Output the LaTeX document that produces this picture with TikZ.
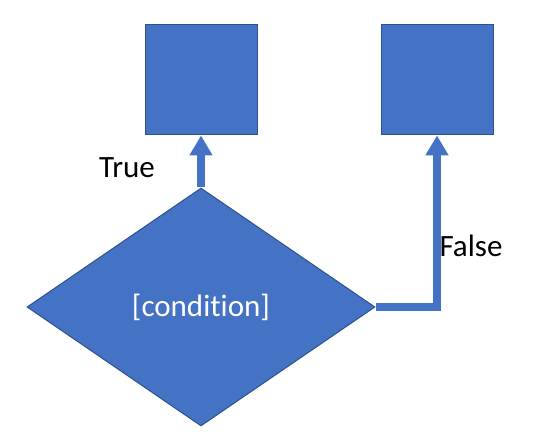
\documentclass[tikz,border=0pt]{standalone}
\usepackage{fontspec}
\setmainfont{Carlito}[Ligatures={NoCommon}]
\usetikzlibrary{shapes.geometric,arrows.meta}
\definecolor{boxblue}{HTML}{4472C4}
\definecolor{edgeblue}{HTML}{2F528F}
\tikzset{
  boxnode/.style={draw=edgeblue, fill=boxblue, line width=1pt, minimum width=112pt, minimum height=110pt, inner sep=0pt},
  decnode/.style={diamond, draw=edgeblue, fill=boxblue, line width=1pt, minimum width=348pt, minimum height=238pt, inner sep=0pt, text=white, font=\fontsize{31}{36}\selectfont},
  arr/.style={draw=boxblue, line width=8pt, -{Triangle[width=22pt,length=20pt]}},
  lbl/.style={font=\fontsize{31}{36}\selectfont, text=black}
}
\begin{document}
\begin{tikzpicture}[x=1pt,y=-1pt]
\useasboundingbox (0,0) rectangle (533,446);
\node[boxnode] (s1) at (201,80) {};
\node[boxnode] (s2) at (437,80) {};
\node[decnode] (d) at (201,307) {[condition]};
\draw[arr] (d.north) -- (s1.south);
\draw[arr] (d.east) -| (s2.south);
\node[lbl] (t) at (127,168) {True};
\node[lbl] (f) at (471,246) {False};
\end{tikzpicture}
\end{document}
